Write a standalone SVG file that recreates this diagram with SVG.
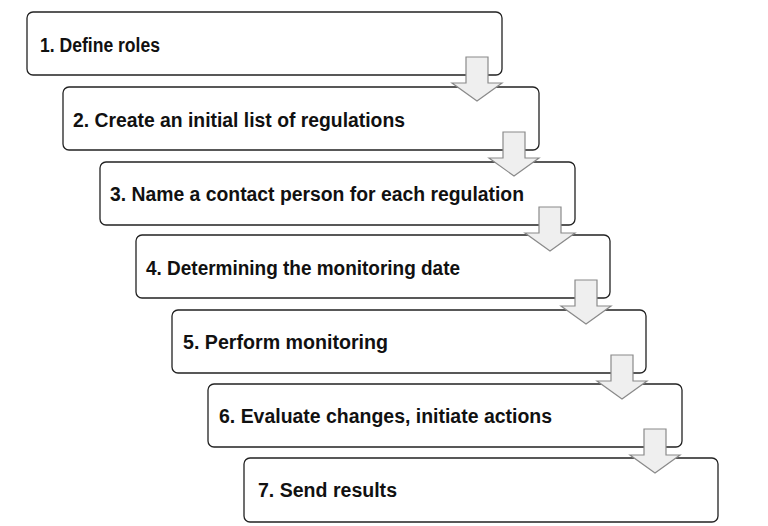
<svg xmlns="http://www.w3.org/2000/svg" width="768" height="526" viewBox="0 0 768 526">
<style>
.box{fill:#fff;stroke:#222;stroke-width:1.3}
.t{font-family:"Liberation Sans",Arial,sans-serif;font-weight:bold;font-size:20px;fill:#111}
.ar{fill:#efefef;stroke:#8a8a8a;stroke-width:1.2}
</style>
<rect width="768" height="526" fill="#fff"/>
<g id="n1"><rect class="box" x="27" y="12" width="475" height="63" rx="6"/><text class="t" x="40" y="52" textLength="120" lengthAdjust="spacingAndGlyphs">1. Define roles</text></g>
<g id="n2"><rect class="box" x="63" y="87" width="476" height="63" rx="6"/><text class="t" x="73" y="127" textLength="332" lengthAdjust="spacingAndGlyphs">2. Create an initial list of regulations</text></g>
<g id="n3"><rect class="box" x="100" y="162" width="475" height="63" rx="6"/><text class="t" x="110" y="201" textLength="414" lengthAdjust="spacingAndGlyphs">3. Name a contact person for each regulation</text></g>
<g id="n4"><rect class="box" x="136" y="235" width="474" height="63" rx="6"/><text class="t" x="146" y="275" textLength="314" lengthAdjust="spacingAndGlyphs">4. Determining the monitoring date</text></g>
<g id="n5"><rect class="box" x="172" y="310" width="474" height="63" rx="6"/><text class="t" x="183" y="349" textLength="205" lengthAdjust="spacingAndGlyphs">5. Perform monitoring</text></g>
<g id="n6"><rect class="box" x="208" y="384" width="474" height="63" rx="6"/><text class="t" x="219" y="423" textLength="333" lengthAdjust="spacingAndGlyphs">6. Evaluate changes, initiate actions</text></g>
<g id="n7"><rect class="box" x="244" y="458" width="474" height="64" rx="6"/><text class="t" x="258" y="497" textLength="139" lengthAdjust="spacingAndGlyphs">7. Send results</text></g>
<g id="connectors">
<path class="ar" d="M466,57 h22 v26 h14 l-25,18 l-25,-18 h14 z"/>
<path class="ar" d="M503,132 h22 v26 h14 l-25,18 l-25,-18 h14 z"/>
<path class="ar" d="M539,207 h22 v26 h14 l-25,18 l-25,-18 h14 z"/>
<path class="ar" d="M575,280 h22 v26 h14 l-25,18 l-25,-18 h14 z"/>
<path class="ar" d="M611,355 h22 v26 h14 l-25,18 l-25,-18 h14 z"/>
<path class="ar" d="M644,429 h22 v26 h14 l-25,18 l-25,-18 h14 z"/>
</g>
</svg>
